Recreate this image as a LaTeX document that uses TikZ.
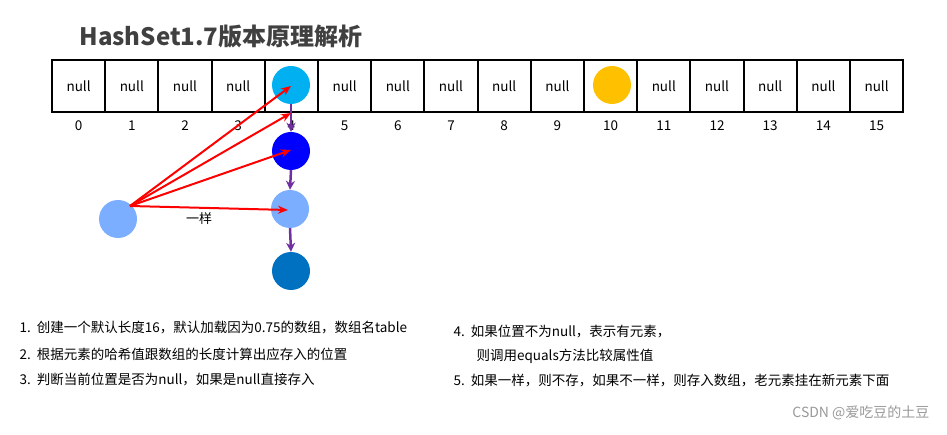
\documentclass[tikz,border=0pt]{standalone}
\usepackage{fontspec}
\setmainfont{Noto Sans CJK SC}
\usetikzlibrary{arrows.meta}
\definecolor{cyanc}{HTML}{00B0F0}
\definecolor{yel}{HTML}{FFC000}
\definecolor{lb}{HTML}{7BAEFF}
\definecolor{db}{HTML}{0070C0}
\definecolor{pur}{HTML}{7030A0}
\tikzset{cell/.style={draw,line width=2pt,minimum width=53.2pt,minimum height=52pt,inner sep=0,font=\fontsize{13.5}{15}\selectfont},
 idx/.style={font=\fontsize{13.5}{15}\selectfont},
 ball/.style={circle,minimum size=38pt,inner sep=0},
 red/.style={draw=red,line width=2pt,-{Stealth[length=10pt,width=8pt]}},
 pu/.style={draw=pur,line width=2.5pt,-{Stealth[length=9pt,width=9pt]}},
 item/.style={anchor=west,font=\fontsize{13.5}{15}\selectfont}}
\begin{document}
\begin{tikzpicture}[x=1pt,y=-1pt]
\useasboundingbox (0,0) rectangle (947,435);
\node[anchor=west,font=\bfseries\fontsize{24}{26}\selectfont,text=black!75] (title) at (76,37) {HashSet1.7版本原理解析};
\foreach \i in {0,...,15}{
 \pgfmathsetmacro\cx{52+53.2*\i+26.6}
 \ifnum\i=4 \node[cell] (c\i) at (\cx,86) {};
 \else\ifnum\i=10 \node[cell] (c\i) at (\cx,86) {};
 \else \node[cell] (c\i) at (\cx,86) {null};\fi\fi
 \node[idx] (i\i) at (\cx,126) {\i};
}
\node[ball,fill=cyanc] (a) at (291,85) {};
\node[ball,fill=yel] (y) at (612,85) {};
\node[ball,fill=blue] (b) at (291,151) {};
\node[ball,fill=lb] (c) at (290,209) {};
\node[ball,fill=db] (d) at (291,271) {};
\node[ball,fill=lb] (s) at (118,219) {};
\coordinate (o) at (130,206);
\coordinate (t1) at (291,86);
\coordinate (t2) at (291,113);
\coordinate (t3) at (291,150);
\coordinate (t4) at (288,210);
\draw[pu] (a.south) -- (b.north);
\draw[pu] (b.south) -- (c.north);
\draw[pu] (c.south) -- (d.north);
\foreach \t in {t1,t2,t3,t4} \draw[red] (o) -- (\t);
\node[font=\fontsize{13}{15}\selectfont] (same) at (199,219) {一样};
\node[item] (l1) at (16,328) {1.\ \ 创建一个默认长度16，默认加载因为0.75的数组，数组名table};
\node[item] (l2) at (16,354) {2.\ \ 根据元素的哈希值跟数组的长度计算出应存入的位置};
\node[item] (l3) at (16,380) {3.\ \ 判断当前位置是否为null，如果是null直接存入};
\node[item] (l4) at (450,332) {4.\ \ 如果位置不为null，表示有元素，};
\node[item] (l4b) at (473,356) {则调用equals方法比较属性值};
\node[item] (l5) at (450,381) {5.\ \ 如果一样，则不存，如果不一样，则存入数组，老元素挂在新元素下面};
\node[anchor=east,text=black!40,font=\fontsize{14}{16}\selectfont] (csdn) at (933,413) {CSDN @爱吃豆的土豆};
\end{tikzpicture}
\end{document}
